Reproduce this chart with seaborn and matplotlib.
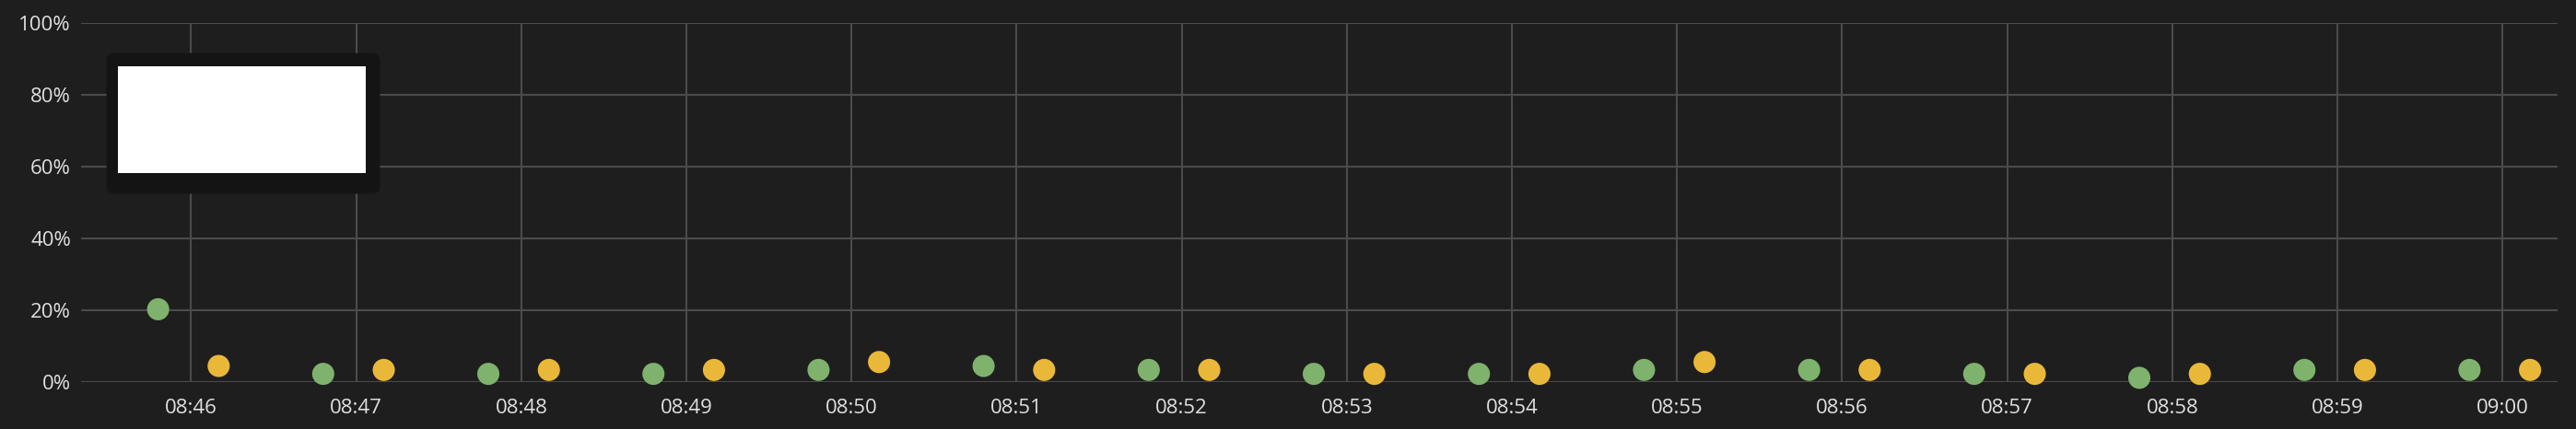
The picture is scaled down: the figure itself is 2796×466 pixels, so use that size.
import matplotlib
matplotlib.use("Agg")
import matplotlib.pyplot as plt
import matplotlib.dates as mdates
from matplotlib.patches import FancyBboxPatch, Rectangle
import seaborn as sns
import pandas as pd

# ---- data ----
green_times = ["08:45:48", "08:46:48", "08:47:48", "08:48:48", "08:49:48", "08:50:48",
               "08:51:48", "08:52:48", "08:53:48", "08:54:48", "08:55:48", "08:56:48",
               "08:57:48", "08:58:48", "08:59:48"]
green_values = [20.2, 2.2, 2.2, 2.2, 3.3, 4.4, 3.3, 2.2, 2.2, 3.3, 3.3, 2.2, 1.1, 3.3, 3.3]
yellow_times = ["08:46:10", "08:47:10", "08:48:10", "08:49:10", "08:50:10", "08:51:10",
                "08:52:10", "08:53:10", "08:54:10", "08:55:10", "08:56:10", "08:57:10",
                "08:58:10", "08:59:10", "09:00:10"]
yellow_values = [4.4, 3.3, 3.3, 3.3, 5.5, 3.3, 3.3, 2.2, 2.2, 5.5, 3.3, 2.2, 2.2, 3.3, 3.3]
series_names = ["A", "B"]
y_ticks = [0, 20, 40, 60, 80, 100]
y_tick_labels = ["0%", "20%", "40%", "60%", "80%", "100%"]
x_start = "08:45:20"
x_end = "09:00:20"

day = "2024-01-01 "
df = pd.DataFrame({
    "time": pd.to_datetime([day + t for t in green_times + yellow_times]),
    "value": green_values + yellow_values,
    "series": [series_names[0]] * len(green_times) + [series_names[1]] * len(yellow_times),
})

BG = "#1f1e1f"
GRID = "#4b4b4b"
TEXT = "#e0e0e0"
W, H = 2796, 466

sns.set_theme(style="dark")
plt.rcParams["font.family"] = ["Open Sans", "DejaVu Sans"]

fig = plt.figure(figsize=(W / 100, H / 100), dpi=100, facecolor=BG)
ax = fig.add_axes([88 / W, (H - 414.7) / H, (2776 - 88) / W, 390 / H])
ax.set_facecolor(BG)

sns.scatterplot(data=df, x="time", y="value", hue="series",
                palette={series_names[0]: "#7eb26d", series_names[1]: "#eab839"},
                s=300, linewidth=0, legend=False, ax=ax, zorder=3, clip_on=False)

ax.set_xlim(pd.Timestamp(day + x_start), pd.Timestamp(day + x_end))
ax.set_ylim(0, 100)
ax.set_yticks(y_ticks)
ax.set_yticklabels(y_tick_labels)
ax.xaxis.set_major_locator(mdates.MinuteLocator())
ax.xaxis.set_major_formatter(mdates.DateFormatter("%H:%M"))
ax.set_xlabel("")
ax.set_ylabel("")
ax.grid(True, color=GRID, linewidth=1.5)
ax.set_axisbelow(True)
for sp in ax.spines.values():
    sp.set_visible(False)
ax.tick_params(axis="both", length=0, labelsize=16, colors=TEXT)
ax.tick_params(axis="x", pad=13)
ax.tick_params(axis="y", pad=8)

# legend placeholder box (pixel layout)
outer = FancyBboxPatch((124 / W, (H - 202) / H), (404 - 124) / W, (202 - 66) / H,
                       boxstyle="round,pad=0.003,rounding_size=0.003",
                       transform=fig.transFigure, facecolor="#141414",
                       edgecolor="none", zorder=5, mutation_aspect=W / H)
fig.patches.append(outer)
inner = Rectangle((128 / W, (H - 188) / H), (397 - 128) / W, (188 - 72) / H,
                  transform=fig.transFigure, facecolor="white", edgecolor="none", zorder=6)
fig.patches.append(inner)

fig.savefig("out.png", dpi=100, facecolor=BG)
